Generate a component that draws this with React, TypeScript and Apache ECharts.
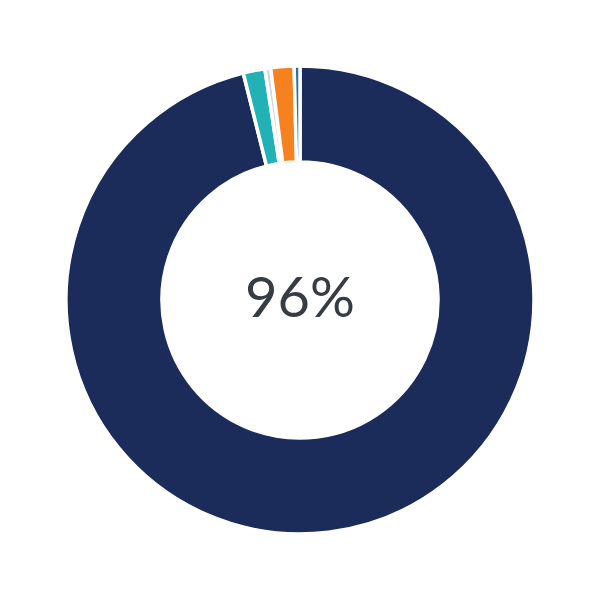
import React, { useEffect, useRef } from "react";
import * as echarts from "echarts";

const categories = ["A", "B", "C", "D", "E"];
const values = [96.1, 1.5, 0.4, 1.6, 0.4];
const colors = ["#1b2c5b", "#22b2b6", "#d3d7db", "#f5821f", "#2b6ea8"];
const centerLabel = "96%";

export default function App() {
  const ref = useRef<HTMLDivElement>(null);
  useEffect(() => {
    if (!ref.current) return;
    const chart = echarts.init(ref.current, undefined, { renderer: "svg" });
    chart.setOption({
      animation: false,
      series: [
        {
          type: "pie",
          center: [292, 292],
          radius: [138, 234],
          startAngle: 90,
          clockwise: true,
          label: { show: false },
          labelLine: { show: false },
          itemStyle: { borderColor: "#ffffff", borderWidth: 3.5 },
          emphasis: { disabled: true },
          data: categories.map((c, i) => ({
            name: c,
            value: values[i],
            itemStyle: { color: colors[i] },
          })),
        },
      ],
      graphic: [
        {
          type: "text",
          left: "center",
          top: 259,
          style: {
            text: centerLabel,
            font: "400 56px Lato",
            fill: "#363c42",
          },
        },
      ],
    });
    return () => chart.dispose();
  }, []);
  return <div ref={ref} style={{ width: 584, height: 584 }} />;
}
